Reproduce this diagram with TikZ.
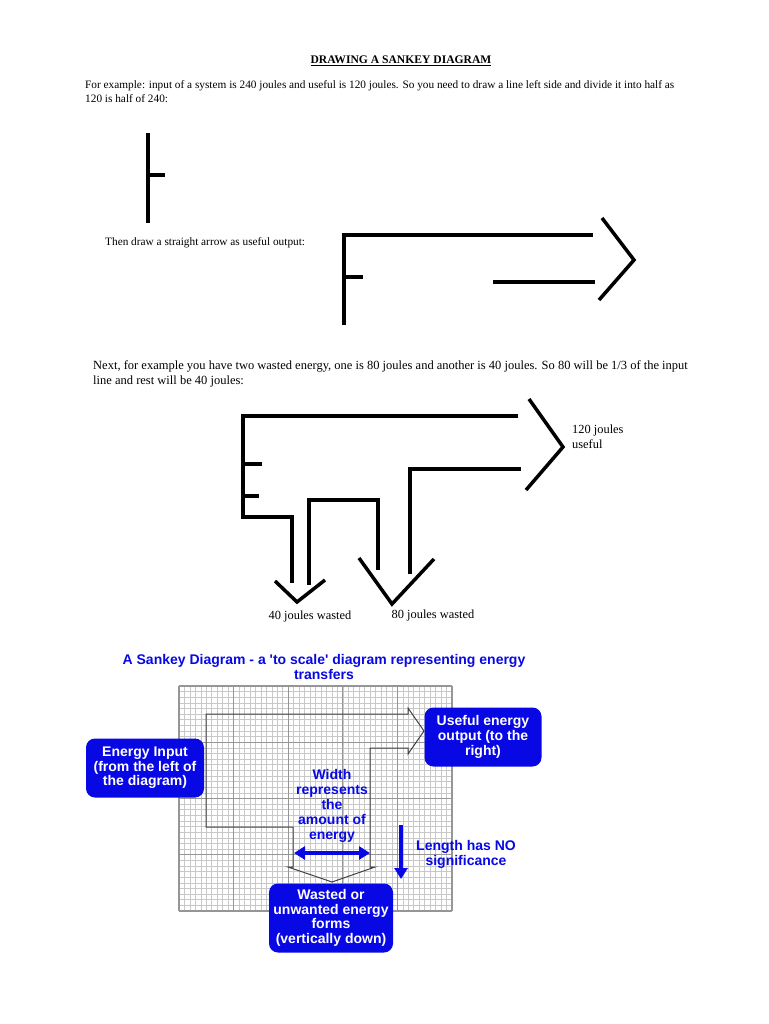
\documentclass[tikz,border=0pt]{standalone}
\usepackage{fontspec}
\setmainfont{Liberation Serif}
\setsansfont{Liberation Sans}
\usetikzlibrary{arrows.meta, positioning}
\definecolor{boxblue}{RGB}{8,8,228}
\definecolor{gridminor}{RGB}{200,200,200}
\definecolor{gridmajor}{RGB}{150,150,150}
\tikzstyle{para} = [anchor=west, align=left, inner sep=0pt, font=\fontsize{11.3}{14}\selectfont]
\tikzstyle{note} = [inner sep=0pt, font=\fontsize{12.4}{15}\selectfont]
\tikzstyle{pen} = [line width=3.5pt, black]
\tikzstyle{minorline} = [line width=0.6pt, gridminor]
\tikzstyle{majorline} = [line width=1.1pt, gridmajor]
\tikzstyle{outline} = [line width=1pt, black!75]
\tikzstyle{bluebox} = [rectangle, rounded corners=9pt, fill=boxblue, text=white, align=center, inner sep=0pt, font=\sffamily\bfseries\fontsize{14}{14.6}\selectfont]
\tikzstyle{bluetext} = [text=boxblue, align=center, inner sep=0pt, font=\sffamily\bfseries\fontsize{14}{15}\selectfont]
\tikzstyle{flow} = [line width=4.5pt, boxblue, -{Triangle[length=11pt,width=13pt]}]

\begin{document}
\begin{tikzpicture}[x=1pt, y=-1pt]
  \useasboundingbox (0,0) rectangle (768,1024);

  \node (head) at (401,61) [font=\bfseries\fontsize{11.6}{13}\selectfont] {\underline{DRAWING A SANKEY DIAGRAM}};
  \node (intro) at (85,92) [para] {For example: input of a system is 240 joules and useful is 120 joules. So you need to draw a line left side and divide it into half as\\120 is half of 240:};
  \node (then) at (105,243) [para] {Then draw a straight arrow as useful output:};
  \node (next) at (93,374) [para, font=\fontsize{12.5}{15.5}\selectfont] {Next, for example you have two wasted energy, one is 80 joules and another is 40 joules. So 80 will be 1/3 of the input\\line and rest will be 40 joules:};
  \node (useful) at (572,437) [note, anchor=west, align=left] {120 joules\\useful};
  \node (w40) at (310,617) [note] {40 joules wasted};
  \node (w80) at (433,616) [note] {80 joules wasted};

  \draw [pen] (148,133) -- (148,223);
  \draw [pen] (148,175) -- (165,175);

  \draw [pen] (593,235) -- (344,235) -- (344,325);
  \draw [pen] (344,277) -- (363,277);
  \draw [pen] (493,282) -- (595,282);
  \draw [pen] (602,218) -- (634,260) -- (599,300);

  \draw [pen] (518,416) -- (243,416) -- (243,517) -- (292,517) -- (292,583);
  \draw [pen] (243,464) -- (262,464);
  \draw [pen] (243,496) -- (259,496);
  \draw [pen] (309,585) -- (309,500) -- (378,500) -- (378,570);
  \draw [pen] (410,574) -- (410,469) -- (521,469);
  \draw [pen] (275,581) -- (297,602) -- (325,580);
  \draw [pen] (359,558) -- (392,604) -- (434,559);
  \draw [pen] (529,399) -- (563,447) -- (526,490);

  \node (stitle) at (324,667) [bluetext] {A Sankey Diagram - a \textquotesingle to scale\textquotesingle{} diagram representing energy\\transfers};

  \foreach \i in {0,...,50}
    \draw [minorline] ({179+\i*5.46},686) -- ({179+\i*5.46},911);
  \foreach \j in {0,...,40}
    \draw [minorline] (179,{686+\j*5.625}) -- (452,{686+\j*5.625});
  \foreach \i in {0,...,5}
    \draw [majorline] ({179+\i*54.6},686) -- ({179+\i*54.6},911);
  \foreach \j in {0,...,4}
    \draw [majorline] (179,{686+\j*56.25}) -- (452,{686+\j*56.25});

  \draw [outline] (206,714) -- (408,714) -- (408,708) -- (424,731) -- (408,754) -- (408,748) -- (370,748)
    -- (370,867) -- (375,867) -- (332,882) -- (288,867) -- (293,867) -- (293,827) -- (206,827) -- cycle;

  \node (input) at (145,768) [bluebox, minimum width=118pt, minimum height=59pt] {Energy Input\\(from the left of\\the diagram)};
  \node (output) at (483,737) [bluebox, minimum width=117pt, minimum height=59pt] {Useful energy\\output (to the\\right)};
  \node (waste) at (331,918) [bluebox, minimum width=124pt, minimum height=69pt] {Wasted or\\unwanted energy\\forms\\(vertically down)};

  \node (width) at (332,806) [bluetext] {Width\\represents\\the\\amount of\\energy};
  \coordinate (wl) at (294,853);
  \coordinate (wr) at (370,853);
  \draw [flow, {Triangle[length=11pt,width=13pt]}-{Triangle[length=11pt,width=13pt]}] (wl) -- (wr);

  \coordinate (lt) at (401,825);
  \coordinate (lb) at (401,879);
  \draw [flow] (lt) -- (lb);
  \node (length) at (466,854) [bluetext] {Length has NO\\significance};
\end{tikzpicture}
\end{document}
